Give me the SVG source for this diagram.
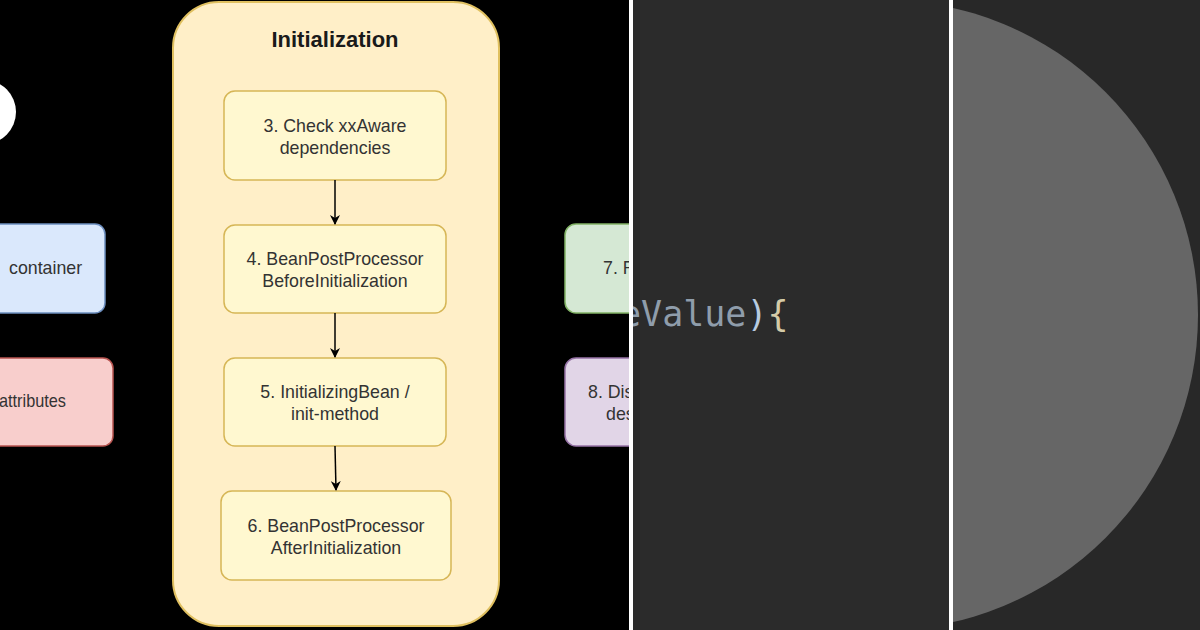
<svg xmlns="http://www.w3.org/2000/svg" width="1200" height="630" viewBox="0 0 1200 630">
<style>
.lbl{font-family:"Liberation Sans",Arial,sans-serif;font-size:17.8px;fill:#333333;text-anchor:middle}
.lbll{font-family:"Liberation Sans",Arial,sans-serif;font-size:17.8px;fill:#333333}
.step{fill:#fff8d0;stroke:#d6b656;stroke-width:1.5}
.conn{stroke:#000000;stroke-width:1.5;fill:none}
.code{font-family:"DejaVu Sans Mono","Liberation Mono",monospace;font-size:35px}
</style>
<defs>
<marker id="arr" markerWidth="10" markerHeight="10" refX="9" refY="5" orient="auto" markerUnits="userSpaceOnUse">
<path d="M0,0 L10,5 L0,10 L3,5 Z" fill="#000000"/>
</marker>
<clipPath id="clipL"><rect x="0" y="0" width="629" height="630"/></clipPath>
<clipPath id="clipM"><rect x="633" y="0" width="316" height="630"/></clipPath>
<clipPath id="clipR"><rect x="953" y="0" width="247" height="630"/></clipPath>
</defs>

<rect x="0" y="0" width="1200" height="630" fill="#ffffff"/>
<rect x="0" y="0" width="629" height="630" fill="#000000"/>
<rect x="633" y="0" width="316" height="630" fill="#2b2b2b"/>
<rect x="953" y="0" width="247" height="630" fill="#282828"/>

<g clip-path="url(#clipL)">
<g id="start-node"><circle cx="-16" cy="112" r="32" fill="#ffffff"/></g>
<g id="node-container">
<rect x="-40" y="224" width="145" height="89" rx="10" fill="#dae8fc" stroke="#6c8ebf" stroke-width="1.5"/>
<text class="lbll" x="9" y="274">container</text>
</g>
<g id="node-attributes">
<rect x="-40" y="358" width="153" height="88" rx="10" fill="#f8cecc" stroke="#b85450" stroke-width="1.5"/>
<text class="lbll" x="-1" y="407" textLength="67" lengthAdjust="spacingAndGlyphs">attributes</text>
</g>
<g id="group-initialization">
<rect x="173" y="2" width="326" height="624" rx="46" fill="#ffefc8" stroke="#e0c060" stroke-width="2"/>
<text x="335" y="47" font-family="Liberation Sans,Arial,sans-serif" font-size="22" font-weight="bold" fill="#1a1a1a" text-anchor="middle">Initialization</text>
</g>
<g id="node-3">
<rect class="step" x="224" y="91" width="222" height="89" rx="11"/>
<text class="lbl" x="335" y="132">3. Check xxAware</text>
<text class="lbl" x="335" y="154">dependencies</text>
</g>
<g id="node-4">
<rect class="step" x="224" y="225" width="222" height="88" rx="11"/>
<text class="lbl" x="335" y="265">4. BeanPostProcessor</text>
<text class="lbl" x="335" y="287">BeforeInitialization</text>
</g>
<g id="node-5">
<rect class="step" x="224" y="358" width="222" height="88" rx="11"/>
<text class="lbl" x="335" y="398">5. InitializingBean /</text>
<text class="lbl" x="335" y="420">init-method</text>
</g>
<g id="node-6">
<rect class="step" x="221" y="491" width="230" height="89" rx="11"/>
<text class="lbl" x="336" y="532">6. BeanPostProcessor</text>
<text class="lbl" x="336" y="554">AfterInitialization</text>
</g>
<g id="node-7">
<rect x="565" y="224" width="120" height="89" rx="11" fill="#d5e8d4" stroke="#82b366" stroke-width="1.5"/>
<text class="lbll" x="603" y="274">7. F</text>
</g>
<g id="node-8">
<rect x="565" y="358" width="120" height="88" rx="11" fill="#e1d5e7" stroke="#9673a6" stroke-width="1.5"/>
<text class="lbll" x="588" y="398">8. Dis</text>
<text class="lbll" x="606" y="420">des</text>
</g>
<g id="connectors">
<line class="conn" x1="335" y1="180" x2="335" y2="224" marker-end="url(#arr)"/>
<line class="conn" x1="335" y1="313" x2="335" y2="357" marker-end="url(#arr)"/>
<line class="conn" x1="335" y1="446" x2="336" y2="490" marker-end="url(#arr)"/>
</g>
</g>

<g clip-path="url(#clipM)">
<text class="code" x="620" y="326"><tspan fill="#8f9dab">eValue</tspan><tspan fill="#b8cbe0">)</tspan><tspan fill="#d4cba8">{</tspan></text>
</g>

<g clip-path="url(#clipR)">
<circle cx="883" cy="315" r="315" fill="#666666"/>
</g>
</svg>
